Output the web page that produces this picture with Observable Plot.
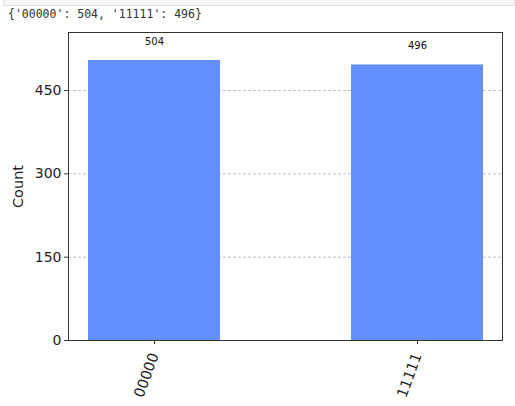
<!DOCTYPE html>
<html>
<head>
<meta charset="utf-8">
<script src="https://cdn.jsdelivr.net/npm/d3@7"></script>
<script src="https://cdn.jsdelivr.net/npm/@observablehq/plot@0.6"></script>
<style>
  body { margin: 0; background: #fff; width: 515px; height: 406px; overflow: hidden; }
  #top { position: relative; height: 26px; }
  #box { position: absolute; left: 3px; right: 0; top: -10px; height: 14px; border: 1px solid #e0e0e0; background: #f7f7f7; }
  #txt { position: absolute; left: 8px; top: 7px; font-family: "DejaVu Sans Mono", monospace; font-size: 11.5px; color: #333; white-space: pre; }
  svg { display: block; }
</style>
</head>
<body>
<div id="top"><div id="box"></div><div id="txt"></div></div>
<div id="chart"></div>
<script>
const states = ["00000", "11111"];
const counts = [504, 496];
const yTicks = [0, 150, 300, 450];
const gridTicks = [150, 300, 450];

const data = states.map((s, i) => ({state: s, count: counts[i]}));
document.getElementById("txt").textContent =
  "{" + states.map((s, i) => `'${s}': ${counts[i]}`).join(", ") + "}";

const yMax = d3.max(counts) * 1.1;

const chart = Plot.plot({
  width: 515,
  height: 380,
  marginLeft: 68,
  marginRight: 13,
  marginTop: 6,
  marginBottom: 66,
  style: {fontFamily: "DejaVu Sans, sans-serif", background: "#fff", color: "#222"},
  x: {domain: states, paddingInner: 0.5, paddingOuter: 0.075, label: null},
  y: {domain: [0, yMax], label: null},
  marks: [
    Plot.gridY(gridTicks, {stroke: "#b0b0b0", strokeOpacity: 1, strokeDasharray: "3,2", strokeWidth: 0.8}),
    Plot.barY(data, {x: "state", y: "count", fill: "#648fff"}),
    Plot.text(data, {x: "state", y: "count", text: d => String(d.count), dy: -19, fontSize: 10, fill: "#111"}),
    Plot.frame({stroke: "#333", strokeWidth: 1}),
    Plot.axisY({ticks: yTicks, tickSize: 4, tickPadding: 3, fontSize: 14, stroke: "#333",
      label: "Count", labelAnchor: "center", labelArrow: "none", labelOffset: 56}),
    Plot.axisX({tickSize: 4, tickRotate: -70, fontSize: 14.5, tickPadding: 9, stroke: "#333", label: null})
  ]
});
chart.querySelectorAll("[aria-label='y-axis label'] text, [aria-label='y-axis label']").forEach(el => el.setAttribute("font-size", "14.5"));
document.getElementById("chart").appendChild(chart);
</script>
</body>
</html>
